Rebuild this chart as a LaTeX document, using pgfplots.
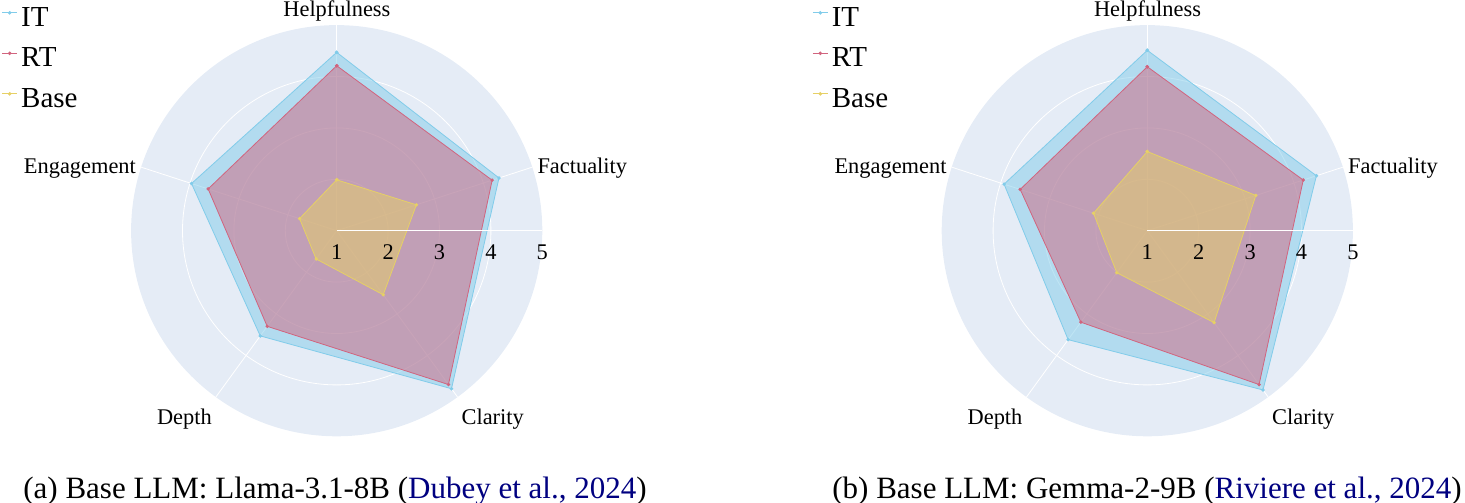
\documentclass[border=0pt]{standalone}
\usepackage{pgfplots}
\pgfplotsset{compat=1.18}
\usepgfplotslibrary{polar}
\usepackage{pgfplotstable}
\usepackage{fontspec}
\setmainfont{Liberation Serif}
\definecolor{bgcol}{HTML}{E5ECF6}
\definecolor{itcol}{HTML}{81CCEA}
\definecolor{rtcol}{HTML}{D1647E}
\definecolor{basecol}{HTML}{E6D065}
\definecolor{citecol}{rgb}{0,0,0.5}

% angle (deg), scores on a 1-5 scale (radial axis starts at 1)
\pgfplotstableread{
angle IT RT Base
90 4.47 4.21 1.99
18 4.32 4.18 2.63
306 4.80 4.70 2.54
234 3.53 3.30 1.68
162 3.97 3.63 1.76
90 4.47 4.21 1.99
}\dataA
\pgfplotstableread{
angle IT RT Base
90 4.51 4.19 2.54
18 4.46 4.19 3.22
306 4.83 4.70 3.21
234 3.62 3.20 2.01
162 3.93 3.60 2.10
90 4.51 4.19 2.54
}\dataB

\newcommand\labfont{\fontsize{22.4}{26}\selectfont}
\tikzset{gridl/.style={white, line width=0.8pt}}

\pgfplotsset{
 radar/.style={
  width=411.2pt, height=411.2pt, scale only axis,
  xmin=-4, xmax=4, ymin=-4, ymax=4,
  hide axis, clip=false,
  legend style={draw=none, fill=none, inner sep=0pt, outer sep=0pt,
    row sep=0pt, column sep=3.5pt, anchor=north west,
    font=\fontsize{29}{34}\selectfont,
    nodes={inner sep=0pt, text height=21.5pt, text depth=19pt}},
  legend cell align=left,
  legend image code/.code={\draw[##1, line width=1pt, mark size=1.2pt, mark repeat=2, mark phase=2] plot coordinates {(0pt,12.4pt) (7.5pt,12.4pt) (15pt,12.4pt)};},
 },
 it/.style={data cs=polar, draw=itcol, fill=itcol, fill opacity=0.5, line width=0.8pt, mark=*, mark size=1.3pt, mark options={fill opacity=1, draw opacity=1}},
 rt/.style={data cs=polar, draw=rtcol, fill=rtcol, fill opacity=0.5, line width=0.8pt, mark=*, mark size=1.3pt, mark options={fill opacity=1, draw opacity=1}},
 base/.style={data cs=polar, draw=basecol, fill=basecol, fill opacity=0.5, line width=0.8pt, mark=*, mark size=1.3pt, mark options={fill opacity=1, draw opacity=1}},
}

% background disc, grid circles and spokes (drawn inside the axis)
\newcommand\radarbg{%
  \fill[bgcol] (axis cs:0,0) circle[radius=205.6pt];
  \draw[gridl] (axis cs:0,0) circle[radius=51.4pt];
  \draw[gridl] (axis cs:0,0) circle[radius=102.8pt];
  \draw[gridl] (axis cs:0,0) circle[radius=154.2pt];
  \draw[gridl] (axis cs:0,0) -- ++(18:205.6pt);
  \draw[gridl] (axis cs:0,0) -- ++(90:205.6pt);
  \draw[gridl] (axis cs:0,0) -- ++(162:205.6pt);
  \draw[gridl] (axis cs:0,0) -- ++(234:205.6pt);
  \draw[gridl] (axis cs:0,0) -- ++(306:205.6pt);
}
\newcommand\radartop{%
  \draw[white, line width=1pt] (axis cs:0,0) -- (axis cs:4,0);
  \node[anchor=north, inner sep=0pt, yshift=-13.6pt, font=\labfont] at (axis cs:0,0) {1};
  \node[anchor=north, inner sep=0pt, yshift=-13.6pt, font=\labfont] at (axis cs:1,0) {2};
  \node[anchor=north, inner sep=0pt, yshift=-13.6pt, font=\labfont] at (axis cs:2,0) {3};
  \node[anchor=north, inner sep=0pt, yshift=-13.6pt, font=\labfont] at (axis cs:3,0) {4};
  \node[anchor=north, inner sep=0pt, yshift=-13.6pt, font=\labfont] at (axis cs:4,0) {5};
}
\newcommand\radarlabels[1]{%
  \begin{scope}[xshift=#1, font=\labfont]
  \node[anchor=base, inner sep=0pt] at (336.9pt,-16.9pt) {Helpfulness};
  \node[anchor=west, inner sep=0pt] at (537.3pt,-168.2pt) {Factuality};
  \node[anchor=east, inner sep=0pt] at (136.1pt,-168.2pt) {Engagement};
  \node[anchor=north east, inner sep=0pt] at (212.0pt,-409pt) {Depth};
  \node[anchor=north west, inner sep=0pt] at (461.4pt,-409pt) {Clarity};
  \end{scope}
}

\begin{document}
\begin{tikzpicture}
\useasboundingbox (0pt,0pt) rectangle (1465pt,-503pt);

\begin{axis}[radar, at={(336.7pt,-230.7pt)}, anchor=center,
  legend style={at={(-0.3147,1.0489)}}]
\radarbg
\addplot[it] table[x=angle, y expr=\thisrow{IT}-1] {\dataA};
\addlegendentry{IT}
\addplot[rt] table[x=angle, y expr=\thisrow{RT}-1] {\dataA};
\addlegendentry{RT}
\addplot[base] table[x=angle, y expr=\thisrow{Base}-1] {\dataA};
\addlegendentry{Base}
\radartop
\end{axis}

\begin{axis}[radar, at={(1147.3pt,-230.7pt)}, anchor=center,
  legend style={at={(-0.3147,1.0489)}}]
\radarbg
\addplot[it] table[x=angle, y expr=\thisrow{IT}-1] {\dataB};
\addlegendentry{IT}
\addplot[rt] table[x=angle, y expr=\thisrow{RT}-1] {\dataB};
\addlegendentry{RT}
\addplot[base] table[x=angle, y expr=\thisrow{Base}-1] {\dataB};
\addlegendentry{Base}
\radartop
\end{axis}

\radarlabels{0pt}
\radarlabels{810.6pt}

\node[anchor=base, font=\fontsize{31}{36}\selectfont, inner sep=0pt] at (335pt,-498pt)
  {(a) Base LLM: Llama-3.1-8B (\textcolor{citecol}{Dubey et al., 2024})};
\node[anchor=base, font=\fontsize{31}{36}\selectfont, inner sep=0pt] at (1147pt,-498pt)
  {(b) Base LLM: Gemma-2-9B (\textcolor{citecol}{Riviere et al., 2024})};
\end{tikzpicture}
\end{document}
